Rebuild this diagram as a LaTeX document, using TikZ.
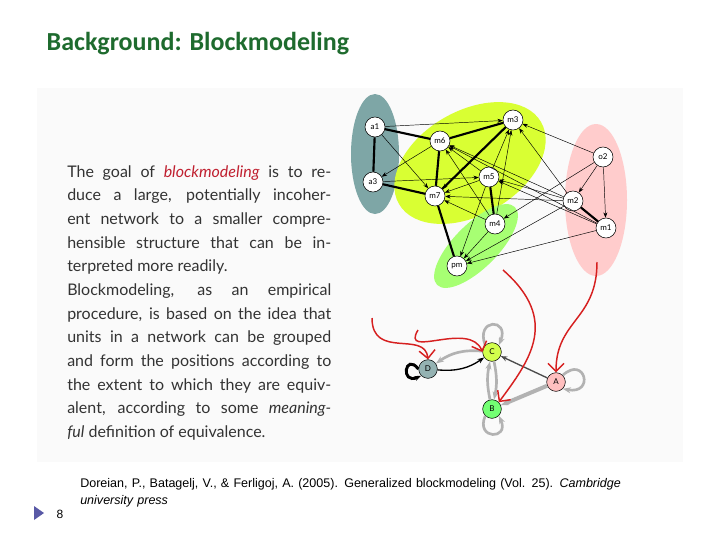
\documentclass[tikz,border=0pt]{standalone}
\usepackage{fontspec}
\setmainfont{Lato}
\newfontfamily\titlef{Carlito}
\newfontfamily\arialf{Liberation Sans}
\usetikzlibrary{arrows.meta}
\definecolor{ttl}{HTML}{1E6B2E}
\definecolor{red1}{HTML}{D62020}
\definecolor{emc}{HTML}{C02030}
\begin{document}
\begin{tikzpicture}[x=0.75pt,y=-0.75pt,
 v/.style={circle,draw,fill=white,inner sep=0.5pt,minimum size=15pt,font=\fontsize{6}{6}\selectfont},
 bn/.style={circle,draw,inner sep=0pt,minimum size=14pt,font=\fontsize{6}{6}\selectfont},
 e/.style={-{Stealth[length=4pt]},line width=0.35pt},
 t/.style={line width=1.6pt},
 ra/.style={red1,line width=1.1pt,-{Straight Barb[length=6pt]}},
 ga/.style={gray!60,line width=2pt,-{Stealth[length=6pt,gray!60]}},
 ba/.style={black,line width=1pt,-{Stealth[length=5pt]}}]
\useasboundingbox (0,0) rectangle (720,540);
\fill[white] (0,0) rectangle (720,540);
\fill[black!2] (37,88) rectangle (683,462);
\node[anchor=west,font=\titlef\bfseries\fontsize{19.5}{20}\selectfont,text=ttl] (title) at (42,44) {Background: Blockmodeling};
% blobs
\fill[teal!45!gray!70] (375,154) ellipse [x radius=24,y radius=60];
\fill[lime!75!yellow!80,shift={(470,163)},rotate=30] (0,0) ellipse [x radius=82,y radius=52];
\fill[green!50!lime!55,shift={(476,246)},rotate=45] (0,0) ellipse [x radius=55,y radius=22];
\fill[red!20] (596,200) ellipse [x radius=31,y radius=76];
% nodes
\node[v] (a1) at (375,127) {a1};
\node[v] (m3) at (513,120) {m3};
\node[v] (m6) at (440,141) {m6};
\node[v] (o2) at (603,157) {o2};
\node[v] (a3) at (373,182) {a3};
\node[v] (m5) at (489,177) {m5};
\node[v] (m7) at (435,196) {m7};
\node[v] (m2) at (573,201) {m2};
\node[v] (m4) at (495,224) {m4};
\node[v] (m1) at (606,228) {m1};
\node[v] (pm) at (457,266) {pm};
% thick
\draw[t] (a1)--(a3); \draw[t] (a1)--(m6); \draw[t] (m6)--(m3); \draw[t] (m6)--(m7);
\draw[t] (m7)--(m3); \draw[t] (a3)--(m7); \draw[t] (m7)--(pm); \draw[t] (m5)--(m4); \draw[t] (m2)--(m1);
% thin
\foreach \a/\b in {a1/m3,a1/m7,m6/a3,a3/m5,m5/m7,m4/m6,m4/m3,m5/m3,o2/m3,o2/m4,o2/m2,o2/m1,m2/m6,m2/m5,m2/m7,m2/pm,m1/m5,m1/m6,m1/pm,m4/pm,m5/pm,m4/m7,m3/m7,m5/m6,m2/m3}
 \draw[e] (\a)--(\b);
% bottom
\node[bn,fill=lime!70] (C) at (492,352) {C};
\node[bn,fill=teal!40!gray!60] (D) at (428,369) {D};
\node[bn,fill=red!25] (A) at (556,382) {A};
\node[bn,fill=green!55] (B) at (492,409) {B};
\draw[ga] (C) to[bend right=20] (D);
\draw[ba] (D) to[bend right=20] (C);
\draw[ga] (C) to[bend left=12] (B);
\draw[ga] (B) to[bend left=12] (C);
\draw[ba,black!70] (A) -- (C);
\draw[ga,line width=3pt] (A) -- (B);
\draw[line width=2.2pt,-{Stealth[length=5pt]}] (D.west) .. controls (405,352) and (400,385) .. (D.south west);
\draw[ga] (C.north west) .. controls (475,318) and (510,318) .. (C.north east);
\draw[ga] (A.north east) .. controls (585,355) and (595,395) .. (A.south east);
\draw[ga] (B.south west) .. controls (475,440) and (510,440) .. (B.south east);
% red arrows
\coordinate (r1) at (372,318); \coordinate (r2) at (418,330); \coordinate (r3) at (503,270); \coordinate (r4) at (597,262);
\draw[ra] (r1) .. controls (372,360) and (425,330) .. (D.north);
\draw[ra] (r2) .. controls (400,360) and (470,320) .. (C.west);
\draw[ra] (r3) .. controls (560,320) and (530,360) .. (B.north east);
\draw[ra] (r4) .. controls (597,320) and (556,320) .. (A.north);
% text
\node[anchor=north west,text width=198pt,align=justify,inner sep=0pt,text=black!80,
 font=\fontsize{12}{17.75}\selectfont] (body) at (67,165)
 {The goal of \textcolor{emc}{\itshape blockmodeling} is to re-\linebreak duce a large, potentially incoher-\linebreak ent network to a smaller compre-\linebreak hensible structure that can be in-\linebreak terpreted more readily.\\
 Blockmodeling, as an empirical\linebreak procedure, is based on the idea that\linebreak units in a network can be grouped\linebreak and form the positions according to\linebreak the extent to which they are equiv-\linebreak alent, according to some \textit{meaning-}\linebreak \textit{ful} definition of equivalence.};
\node[anchor=north west,align=left,text width=444pt,inner sep=0pt,font=\arialf\fontsize{9.4}{12.5}\selectfont] (cit) at (80,478) {Doreian, P., Batagelj, V., \& Ferligoj, A. (2005). Generalized blockmodeling (Vol. 25). \textit{Cambridge\\university press}};
\fill[blue!30!gray] (34,506) -- (44,513) -- (34,520) -- cycle;
\node[font=\arialf\fontsize{9}{9}\selectfont] (pg) at (60,514) {8};
\end{tikzpicture}
\end{document}
